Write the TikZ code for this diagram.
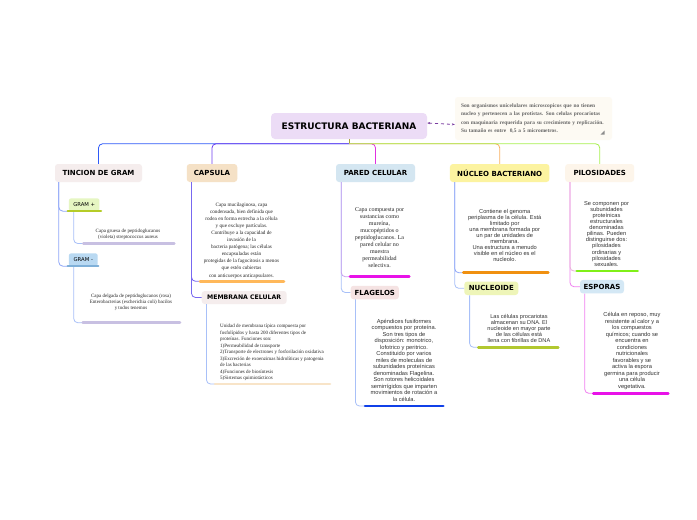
\documentclass[tikz,border=0pt]{standalone}
\usepackage{fontspec}
\setmainfont{Liberation Serif}
\newfontfamily\headfont{DejaVu Sans}
\newfontfamily\bodyfont{Liberation Sans}
\usetikzlibrary{arrows.meta}

\definecolor{ttlfill}{HTML}{ECDCF6}
\definecolor{notefill}{HTML}{FDFAF3}
\definecolor{notelink}{HTML}{7A3CA0}
\definecolor{tinfill}{HTML}{F5EDED}
\definecolor{capfill}{HTML}{F5E1C6}
\definecolor{parfill}{HTML}{D4E6F1}
\definecolor{nucfill}{HTML}{FCF3A0}
\definecolor{pilfill}{HTML}{FDF5EA}
\definecolor{gpfill}{HTML}{E6F6C2}
\definecolor{gmfill}{HTML}{B9D9F2}
\definecolor{flafill}{HTML}{F5E3E3}
\definecolor{noidfill}{HTML}{EEF5B8}
\definecolor{espfill}{HTML}{D4E8F5}
\definecolor{stemline}{HTML}{A8A040}
\definecolor{tinline}{HTML}{2F5AF8}
\definecolor{capline}{HTML}{7040F0}
\definecolor{parline}{HTML}{E030E0}
\definecolor{nucline}{HTML}{F8B060}
\definecolor{pilline}{HTML}{A8F050}
\definecolor{blueline}{HTML}{8FA6F8}
\definecolor{paleline}{HTML}{A8C0F8}
\definecolor{purpline}{HTML}{7868F0}
\definecolor{lilaline}{HTML}{C8A0F0}
\definecolor{pinkline}{HTML}{E8B0D8}
\definecolor{magline}{HTML}{F080F0}
\definecolor{gpbar}{HTML}{B5CC28}
\definecolor{gmbar}{HTML}{7FB0D8}
\definecolor{lavbar}{HTML}{C8C0E2}
\definecolor{orgbar}{HTML}{FFB85A}
\definecolor{tanbar}{HTML}{F8E4C8}
\definecolor{magbar}{HTML}{E812E8}
\definecolor{bluebar}{HTML}{1040E8}
\definecolor{darkorgbar}{HTML}{F09010}
\definecolor{olivebar}{HTML}{B2C830}
\definecolor{greenbar}{HTML}{80F018}

\begin{document}
\begin{tikzpicture}[x=1pt,y=-1pt,
    box/.style={rounded corners=3pt,inner xsep=0pt,inner ysep=0pt,text=black},
    head/.style={box,minimum height=18pt,font=\headfont\bfseries\fontsize{7}{8}\selectfont},
    subhead/.style={box,minimum height=13.5pt,font=\headfont\bfseries\fontsize{7}{8}\selectfont},
    gramhead/.style={box,rounded corners=2pt,minimum height=12.5pt,font=\headfont\fontsize{5.3}{6}\selectfont},
    sanstext/.style 2 args={inner sep=0pt,align=center,text=black!80,font=\bodyfont\fontsize{#1}{#2}\selectfont},
    seriftext/.style 2 args={inner sep=0pt,align=center,text=black!85,font=\fontsize{#1}{#2}\selectfont},
    link/.style={line width=0.8pt,rounded corners=4pt},
    bar/.style={line width=2.6pt,line cap=round}]
        \path[fill=white,use as bounding box] (0,0) rectangle (697,520);

        \coordinate (hub) at (349,143.8);
        \coordinate (gpbarL) at (83.3,243.5);
        \coordinate (gpbarR) at (174.3,243.5);
        \coordinate (gmbarL) at (82.7,322.7);
        \coordinate (gmbarR) at (180,322.7);
        \coordinate (capbarL) at (200,281.3);
        \coordinate (capbarR) at (284,281.3);
        \coordinate (membarL) at (215,384);
        \coordinate (membarR) at (330,384);
        \coordinate (parbarL) at (350,276.7);
        \coordinate (parbarR) at (409.3,276.7);
        \coordinate (flabarL) at (365,406);
        \coordinate (flabarR) at (443.3,406);
        \coordinate (nucbarL) at (463.3,272.7);
        \coordinate (nucbarR) at (548.3,272.7);
        \coordinate (noidbarL) at (478.3,347.3);
        \coordinate (noidbarR) at (558.3,347.3);
        \coordinate (pilbarL) at (576.7,271);
        \coordinate (pilbarR) at (637.7,271);
        \coordinate (espbarL) at (593.3,393.3);
        \coordinate (espbarR) at (668.3,393.3);

        \node[box,fill=ttlfill,rounded corners=4pt,minimum width=156pt,minimum height=26pt,font=\headfont\bfseries\fontsize{9}{10}\selectfont] (title) at (349,126) {ESTRUCTURA BACTERIANA};
        \node[box,fill=notefill,text=black!60,align=left,text width=145pt,inner xsep=6pt,minimum height=43pt,font=\bfseries\fontsize{5.4}{8.6}\selectfont] (note) at (533.5,118.5) {Son organismos unicelulares microscopicos que no tienen\\nucleo y pertenecen a las protistas. Son celulas procariotas\\con maquinaria requerida para su crecimiento y replicación.\\Su tamaño es entre~ 0,5 a 5 micrometros.};

        \node[head,fill=tinfill,minimum width=87pt] (tincion) at (98.5,173) {TINCION DE GRAM};
        \node[head,fill=capfill,minimum width=50.5pt] (capsula) at (212,173) {CAPSULA};
        \node[head,fill=parfill,minimum width=79pt] (pared) at (375.5,173) {PARED CELULAR};
        \node[head,fill=nucfill,minimum width=99.5pt] (nucleo) at (499.7,173) {NÚCLEO BACTERIANO};
        \node[head,fill=pilfill,minimum width=69pt] (pilosidades) at (599.7,173) {PILOSIDADES};

        \node[gramhead,fill=gpfill,minimum width=30.5pt] (grampos) at (84.2,204.7) {GRAM +};
        \node[gramhead,fill=gmfill,minimum width=28.7pt] (gramneg) at (83.3,259.7) {GRAM -};
        \node[subhead,fill=tinfill,minimum width=85pt,minimum height=13pt,font=\headfont\bfseries\fontsize{6.2}{7}\selectfont] (membrana) at (244.2,297.5) {MEMBRANA CELULAR};
        \node[subhead,fill=flafill,minimum width=48.3pt] (flagelos) at (374.8,292.5) {FLAGELOS};
        \node[subhead,fill=noidfill,minimum width=54pt] (nucleoide) at (491.3,288.3) {NUCLEOIDE};
        \node[subhead,fill=espfill,minimum width=44pt] (esporas) at (602,286.7) {ESPORAS};

        \node[seriftext={5}{6.3}] (gptxt) at (128,234.2) {Capa gruesa de peptidoglucanos\\(violeta) streptococcus aureus};
        \node[seriftext={5}{6.2}] (gmtxt) at (131,302.5) {Capa delgada de peptidoglucanos (rosa)\\Enterobacterias (escherichia coli) bacilos\\y todos tenemos};
        \node[seriftext={5.2}{7.07}] (captxt) at (241.5,240.4) {Capa mucilaginosa, capa\\condensada, bien definida que\\rodea en forma estrecha a la célula\\y que excluye partículas.\hspace*{34pt}\\Contribuye a la capacidad de\\invasión de la\\bacteria patógena; las células\\encapsuladas están\\protegidas de la fagocitosis a menos\\que estén cubiertas\\con anticuerpos anticapsulares.};
        \node[seriftext={5}{6.45},align=left,anchor=west] (memtxt) at (220,352.5) {Unidad de membrana típica compuesta por\\fosfolípidos y hasta 200 diferentes tipos de\\proteínas. Funciones son:\\ 1)Permeabilidad de transporte\\2)Transporte de electrones y fosforilación oxidativa\\3)Excreción de exoenzimas hidrolíticas y patogenia\\de las bacterias\\4)Funciones de biosíntesis\\5)Sistemas quimiotácticos};
        \node[seriftext={6}{7}] (partxt) at (379.5,238) {Capa compuesta por\\sustancias como\\mureína,\\mucopéptidos o\\peptidoglucanos. La\\pared celular no\\muestra\\permeabilidad\\selectiva.};
        \node[sanstext={5.7}{6.5}] (flatxt) at (404,360) {Apéndices fusiformes\\compuestos por proteína.\\Son tres tipos de\\disposición: monotrico,\\lofotrico y peritrico.\\Constituido por varios\\miles de moleculas de\\subunidades proteínicas\\denominadas Flagelina.\\Son rotores helicoidales\\semirrígidos que imparten\\movimientos de rotación a\\la célula.};
        \node[sanstext={5.7}{6}] (nuctxt) at (504.7,235) {Contiene el genoma\\periplasma de la célula. Está\\limitado por\\una membrana formada por\\un par de unidades de\\membrana.\\Una estructura a menudo\\visible en el núcleo es el\\nucleolo.};
        \node[sanstext={5.6}{6}] (noidtxt) at (519,328) {Las células procariotas\\almacenan su DNA. El\\nucleoide en mayor parte\\de las células está\\llena con fibrillas de DNA};
        \node[sanstext={5.7}{6.1}] (piltxt) at (606.5,233.8) {Se componen por\\subunidades\\proteínicas\\estructurales\\denominadas\\pilinas. Pueden\\distinguirse dos:\\pilosidades\\ordinarias y\\pilosidades\\sexuales.};
        \node[sanstext={5.7}{6.5}] (esptxt) at (632,350.8) {Célula en reposo, muy\\resistente al calor y a\\los compuestos\\químicos; cuando se\\encuentra en\\condiciones\\nutricionales\\favorables y se\\activa la espora\\germina para producir\\una célula\\vegetativa.};

        \fill[black!45] (600.5,134.5) -- (604.5,134.5) -- (604.5,130.5) -- cycle;
        \draw[notelink,line width=0.8pt,dashed,{Stealth[length=3pt]}-{Stealth[length=3pt]}] ([yshift=3pt]title.east) -- ([yshift=-6pt]note.west);

        \draw[link,draw=stemline] (title.south) -- (hub);
        \draw[link,draw=tinline] (hub) -| (tincion.north);
        \draw[link,draw=capline] (hub) -| (capsula.north);
        \draw[link,draw=parline] (hub) -| (pared.north);
        \draw[link,draw=nucline] (hub) -| (nucleo.north);
        \draw[link,draw=pilline] (hub) -| (pilosidades.north);

        \draw[link,draw=blueline] ([xshift=4pt]tincion.south west) |- (grampos.south west);
        \draw[link,draw=blueline] ([xshift=4pt]tincion.south west) |- (gramneg.south west);
        \draw[link,draw=paleline] ([xshift=5pt]grampos.south west) |- (gpbarL);
        \draw[link,draw=paleline] ([xshift=5pt]gramneg.south west) |- (gmbarL);
        \draw[link,draw=purpline] ([xshift=5pt]capsula.south west) |- (membrana.west);
        \draw[link,draw=purpline] ([xshift=5pt]capsula.south west) |- (capbarL);
        \draw[link,draw=paleline] ([xshift=5pt]membrana.south west) |- (membarL);
        \draw[link,draw=paleline] ([xshift=5.5pt]pared.south west) |- (flagelos.west);
        \draw[link,draw=lilaline] ([xshift=5.5pt]pared.south west) |- (parbarL);
        \draw[link,draw=paleline] ([xshift=5pt]flagelos.south west) |- (flabarL);
        \draw[link,draw=paleline] ([xshift=5pt]nucleo.south west) |- (nucleoide.west);
        \draw[link,draw=blueline] ([xshift=5pt]nucleo.south west) |- (nucbarL);
        \draw[link,draw=paleline] ([xshift=5.5pt]nucleoide.south west) |- (noidbarL);
        \draw[link,draw=magline] ([xshift=5pt]pilosidades.south west) |- (esporas.west);
        \draw[link,draw=pinkline] ([xshift=5pt]pilosidades.south west) |- (pilbarL);
        \draw[link,draw=magline] ([xshift=5pt]esporas.south west) |- (espbarL);

        \draw[bar,line width=2.2pt,draw=gpbar] ([xshift=-1pt]grampos.south west) -- ([xshift=1.5pt]grampos.south east);
        \draw[bar,line width=2.2pt,draw=gmbar] ([xshift=-1pt]gramneg.south west) -- ([xshift=0.5pt]gramneg.south east);
        \draw[bar,draw=lavbar] (gpbarL) -- (gpbarR);
        \draw[bar,draw=lavbar] (gmbarL) -- (gmbarR);
        \draw[bar,draw=orgbar] (capbarL) -- (capbarR);
        \draw[bar,draw=tanbar] (membarL) -- (membarR);
        \draw[bar,draw=magbar] (parbarL) -- (parbarR);
        \draw[bar,draw=bluebar] (flabarL) -- (flabarR);
        \draw[bar,draw=darkorgbar] (nucbarL) -- (nucbarR);
        \draw[bar,draw=olivebar] (noidbarL) -- (noidbarR);
        \draw[bar,draw=greenbar] (pilbarL) -- (pilbarR);
        \draw[bar,draw=magbar] (espbarL) -- (espbarR);
    \end{tikzpicture}
\end{document}
